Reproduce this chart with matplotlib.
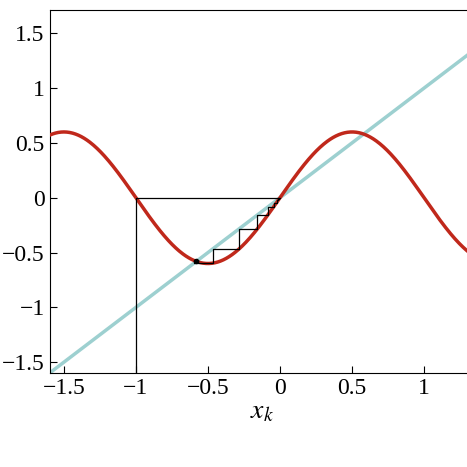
import numpy as np
import matplotlib.pyplot as plt

plt.rcParams['font.family'] = ['Liberation Serif', 'DejaVu Serif']
plt.rcParams['mathtext.fontset'] = 'stix'

# map f(x) = a*sin(pi x), cobweb start
a = 0.6
x_start = -0.999
n_iter = 40
xticks = [-1.5, -1, -0.5, 0, 0.5, 1]
yticks = [-1.5, -1, -0.5, 0, 0.5, 1, 1.5]

fig = plt.figure(figsize=(4.67, 4.67), dpi=100)
ax = fig.add_axes([0.106, 0.201, 0.91, 0.777])

xs = np.linspace(-1.6, 1.4, 600)
ax.plot(xs, xs, color='#9dd0d0', lw=2.5, zorder=2)
ax.plot(xs, a * np.sin(np.pi * xs), color='#c0281b', lw=2.5, zorder=3)

# cobweb
px, py = [x_start], [-1.6]
x = x_start
for i in range(n_iter):
    y = a * np.sin(np.pi * x)
    px += [x, y]
    py += [y, y]
    x = y
ax.plot(px, py, color='black', lw=0.9, zorder=4)
ax.plot([x], [x], 'o', color='black', ms=3, zorder=5)

ax.set_xlim(-1.6, 1.35)
ax.set_ylim(-1.6, 1.71)
ax.set_xticks(xticks)
ax.set_xticklabels(['−1.5', '−1', '−0.5', '0', '0.5', '1'])
ax.set_yticks(yticks)
ax.set_yticklabels(['−1.5', '−1', '−0.5', '0', '0.5', '1', '1.5'])
ax.tick_params(direction='in', labelsize=17, length=5)
ax.set_xlabel('$x_k$', fontsize=20, labelpad=0)

fig.savefig('out.png', dpi=100)
